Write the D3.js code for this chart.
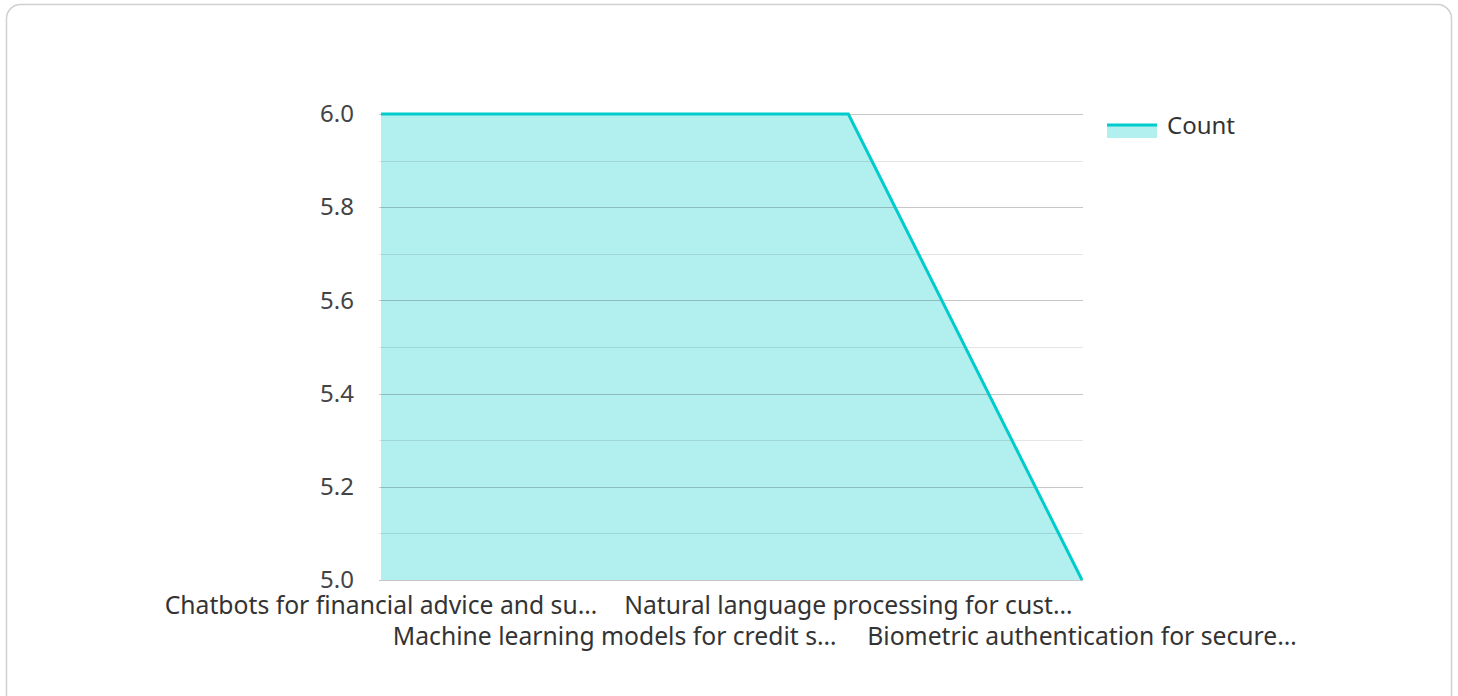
<!DOCTYPE html>
<html><head><meta charset="utf-8">
<script src="https://cdn.jsdelivr.net/npm/d3@7"></script>
<style>
html,body{margin:0;padding:0;background:#fff;}
svg{display:block;font-family:"Noto Sans","Open Sans",sans-serif;}
</style></head>
<body>
<script>
const categories = [
  "Chatbots for financial advice and su…",
  "Machine learning models for credit s…",
  "Natural language processing for cust…",
  "Biometric authentication for secure…"
];
const seriesName = "Count";
const counts = [6, 6, 6, 5];
const yTicks = [5.0, 5.2, 5.4, 5.6, 5.8, 6.0];

const W = 1458, H = 696;
const svg = d3.select("body").append("svg").attr("width", W).attr("height", H);

svg.append("rect").attr("x", 6.5).attr("y", 4.5).attr("width", 1445).attr("height", 720)
  .attr("rx", 14).attr("fill", "#fff").attr("stroke", "#d0d0d0").attr("stroke-width", 1.5);

const pLeft = 381, pRight = 1082, pTop = 114, pBottom = 580;
const x = d3.scalePoint().domain(categories).range([pLeft, pRight]);
const y = d3.scaleLinear().domain([5, 6]).range([pBottom, pTop]);

const lineColor = "#00CCCC";
const FS = 24;

// area
const data = categories.map((c, i) => ({c, v: counts[i]}));
svg.append("path").datum(data)
  .attr("d", d3.area().x(d => x(d.c)).y0(y(5)).y1(d => y(d.v)))
  .attr("fill", lineColor).attr("fill-opacity", 0.3);

// grid
const minor = d3.range(5.1, 6.0, 0.2);
svg.append("g").selectAll("line").data(minor).join("line")
  .attr("x1", pLeft - 2).attr("x2", pRight + 1)
  .attr("y1", d => Math.round(y(d)) + 0.5).attr("y2", d => Math.round(y(d)) + 0.5)
  .attr("stroke", "#000").attr("stroke-opacity", 0.1).attr("stroke-width", 1);
svg.append("g").selectAll("line").data(yTicks).join("line")
  .attr("x1", pLeft - 2).attr("x2", pRight + 1)
  .attr("y1", d => Math.round(y(d)) + 0.5).attr("y2", d => Math.round(y(d)) + 0.5)
  .attr("stroke", "#000").attr("stroke-opacity", 0.22).attr("stroke-width", 1);

// line
svg.append("path").datum(data)
  .attr("d", d3.line().x(d => x(d.c)).y(d => y(d.v)))
  .attr("fill", "none").attr("stroke", lineColor).attr("stroke-width", 3);

// y labels
const yAxis = d3.axisLeft(y).tickValues(yTicks).tickFormat(d3.format(".1f")).tickSize(0).tickPadding(27);
const ya = svg.append("g").attr("transform", `translate(${pLeft},0)`).call(yAxis);
ya.select(".domain").remove();
ya.selectAll("text").attr("font-size", FS).attr("fill", "#444").attr("font-family", "Noto Sans");

// x labels
const xa = svg.append("g");
xa.selectAll("text").data(categories).join("text")
  .attr("x", d => x(d)).attr("y", (d, i) => i % 2 === 0 ? 614 : 645)
  .attr("text-anchor", "middle").attr("font-size", 24.7).attr("fill", "#333")
  .text(d => d);

// legend
const lg = svg.append("g").attr("transform", "translate(1107,125)");
lg.append("rect").attr("x", 0).attr("y", 0).attr("width", 50).attr("height", 13)
  .attr("fill", lineColor).attr("fill-opacity", 0.3);
lg.append("line").attr("x1", 0).attr("x2", 50).attr("y1", 0).attr("y2", 0)
  .attr("stroke", lineColor).attr("stroke-width", 3);
lg.append("text").attr("x", 60).attr("y", 9).attr("font-size", FS).attr("fill", "#333")
  .text(seriesName);
</script>
</body></html>
